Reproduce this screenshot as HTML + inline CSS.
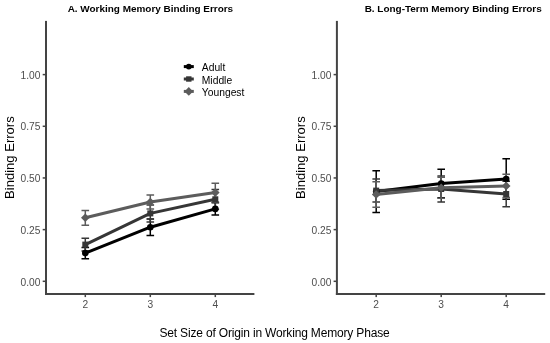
<!DOCTYPE html>
<html><head><meta charset="utf-8"><title>Binding Errors</title>
<style>html,body{margin:0;padding:0;background:#fff;} svg{display:block;filter:blur(0.3px);}</style>
</head><body>
<svg width="550" height="343" viewBox="0 0 550 343">
<style>
text { font-family: "Liberation Sans", Arial, sans-serif; }
.tk { font-size: 10.2px; fill: #4d4d4d; }
.yt { font-size: 13.05px; fill: #000; }
.xt { font-size: 12px; letter-spacing: -0.17px; fill: #000; }
.ti { font-size: 9.95px; font-weight: bold; fill: #000; }
.lg { font-size: 10.3px; fill: #000; }
</style>
<rect width="550" height="343" fill="#fff"/>
<text x="150.4" y="12.4" class="ti" text-anchor="middle">A. Working Memory Binding Errors</text>
<text x="453.2" y="12.4" class="ti" text-anchor="middle">B. Long-Term Memory Binding Errors</text>
<rect x="45.00" y="20.9" width="2" height="274.1" fill="#444444"/>
<rect x="45.00" y="293" width="209.40" height="2" fill="#444444"/>
<rect x="42.70" y="280.55" width="2.6" height="1.5" fill="#444"/>
<text x="40.4" y="285.50" class="tk" text-anchor="end">0.00</text>
<rect x="42.70" y="228.88" width="2.6" height="1.5" fill="#444"/>
<text x="40.4" y="233.82" class="tk" text-anchor="end">0.25</text>
<rect x="42.70" y="177.20" width="2.6" height="1.5" fill="#444"/>
<text x="40.4" y="182.15" class="tk" text-anchor="end">0.50</text>
<rect x="42.70" y="125.53" width="2.6" height="1.5" fill="#444"/>
<text x="40.4" y="130.48" class="tk" text-anchor="end">0.75</text>
<rect x="42.70" y="73.85" width="2.6" height="1.5" fill="#444"/>
<text x="40.4" y="78.80" class="tk" text-anchor="end">1.00</text>
<rect x="84.55" y="294.5" width="1.5" height="2.6" fill="#444"/>
<text x="85.3" y="307.6" class="tk" text-anchor="middle">2</text>
<rect x="149.55" y="294.5" width="1.5" height="2.6" fill="#444"/>
<text x="150.3" y="307.6" class="tk" text-anchor="middle">3</text>
<rect x="214.55" y="294.5" width="1.5" height="2.6" fill="#444"/>
<text x="215.3" y="307.6" class="tk" text-anchor="middle">4</text>
<text transform="translate(14.0,157.6) rotate(-90)" class="yt" text-anchor="middle">Binding Errors</text>
<rect x="335.90" y="20.9" width="2" height="274.1" fill="#444444"/>
<rect x="335.90" y="293" width="209.30" height="2" fill="#444444"/>
<rect x="333.60" y="280.55" width="2.6" height="1.5" fill="#444"/>
<text x="331.4" y="285.50" class="tk" text-anchor="end">0.00</text>
<rect x="333.60" y="228.88" width="2.6" height="1.5" fill="#444"/>
<text x="331.4" y="233.82" class="tk" text-anchor="end">0.25</text>
<rect x="333.60" y="177.20" width="2.6" height="1.5" fill="#444"/>
<text x="331.4" y="182.15" class="tk" text-anchor="end">0.50</text>
<rect x="333.60" y="125.53" width="2.6" height="1.5" fill="#444"/>
<text x="331.4" y="130.48" class="tk" text-anchor="end">0.75</text>
<rect x="333.60" y="73.85" width="2.6" height="1.5" fill="#444"/>
<text x="331.4" y="78.80" class="tk" text-anchor="end">1.00</text>
<rect x="375.45" y="294.5" width="1.5" height="2.6" fill="#444"/>
<text x="376.2" y="307.6" class="tk" text-anchor="middle">2</text>
<rect x="440.45" y="294.5" width="1.5" height="2.6" fill="#444"/>
<text x="441.2" y="307.6" class="tk" text-anchor="middle">3</text>
<rect x="505.45" y="294.5" width="1.5" height="2.6" fill="#444"/>
<text x="506.2" y="307.6" class="tk" text-anchor="middle">4</text>
<text transform="translate(304.6,157.6) rotate(-90)" class="yt" text-anchor="middle">Binding Errors</text>
<path d="M85.3,247.40V258.80M81.50,247.40H89.10M81.50,258.80H89.10" stroke="#000000" stroke-width="1.5" fill="none"/>
<path d="M150.3,218.90V235.50M146.50,218.90H154.10M146.50,235.50H154.10" stroke="#000000" stroke-width="1.5" fill="none"/>
<path d="M215.3,202.70V215.10M211.50,202.70H219.10M211.50,215.10H219.10" stroke="#000000" stroke-width="1.5" fill="none"/>
<path d="M85.3,238.20V251.00M81.50,238.20H89.10M81.50,251.00H89.10" stroke="#363636" stroke-width="1.5" fill="none"/>
<path d="M150.3,204.90V221.90M146.50,204.90H154.10M146.50,221.90H154.10" stroke="#363636" stroke-width="1.5" fill="none"/>
<path d="M215.3,189.40V209.20M211.50,189.40H219.10M211.50,209.20H219.10" stroke="#363636" stroke-width="1.5" fill="none"/>
<path d="M85.3,210.40V225.20M81.50,210.40H89.10M81.50,225.20H89.10" stroke="#5c5c5c" stroke-width="1.5" fill="none"/>
<path d="M150.3,195.00V209.00M146.50,195.00H154.10M146.50,209.00H154.10" stroke="#5c5c5c" stroke-width="1.5" fill="none"/>
<path d="M215.3,183.20V202.00M211.50,183.20H219.10M211.50,202.00H219.10" stroke="#5c5c5c" stroke-width="1.5" fill="none"/>
<polyline points="85.3,253.1 150.3,227.2 215.3,208.9" stroke="#000000" stroke-width="3.0" fill="none" stroke-linejoin="round"/>
<polyline points="85.3,244.6 150.3,213.4 215.3,199.3" stroke="#363636" stroke-width="3.0" fill="none" stroke-linejoin="round"/>
<polyline points="85.3,217.8 150.3,202.0 215.3,192.6" stroke="#5c5c5c" stroke-width="3.0" fill="none" stroke-linejoin="round"/>
<circle cx="85.3" cy="253.1" r="3.3" fill="#000000"/>
<circle cx="150.3" cy="227.2" r="3.3" fill="#000000"/>
<circle cx="215.3" cy="208.9" r="3.3" fill="#000000"/>
<rect x="82.30" y="241.60" width="6.0" height="6.0" fill="#363636"/>
<rect x="147.30" y="210.40" width="6.0" height="6.0" fill="#363636"/>
<rect x="212.30" y="196.30" width="6.0" height="6.0" fill="#363636"/>
<polygon points="85.3,213.50 89.60,217.8 85.3,222.10 81.00,217.8" fill="#5c5c5c"/>
<polygon points="150.3,197.70 154.60,202.0 150.3,206.30 146.00,202.0" fill="#5c5c5c"/>
<polygon points="215.3,188.30 219.60,192.6 215.3,196.90 211.00,192.6" fill="#5c5c5c"/>
<path d="M376.2,170.80V212.40M372.40,170.80H380.00M372.40,212.40H380.00" stroke="#000000" stroke-width="1.5" fill="none"/>
<path d="M441.2,169.20V197.80M437.40,169.20H445.00M437.40,197.80H445.00" stroke="#000000" stroke-width="1.5" fill="none"/>
<path d="M506.2,158.70V199.30M502.40,158.70H510.00M502.40,199.30H510.00" stroke="#000000" stroke-width="1.5" fill="none"/>
<path d="M376.2,179.10V202.10M372.40,179.10H380.00M372.40,202.10H380.00" stroke="#363636" stroke-width="1.5" fill="none"/>
<path d="M441.2,175.90V202.10M437.40,175.90H445.00M437.40,202.10H445.00" stroke="#363636" stroke-width="1.5" fill="none"/>
<path d="M506.2,181.30V206.70M502.40,181.30H510.00M502.40,206.70H510.00" stroke="#363636" stroke-width="1.5" fill="none"/>
<path d="M376.2,181.80V207.20M372.40,181.80H380.00M372.40,207.20H380.00" stroke="#5c5c5c" stroke-width="1.5" fill="none"/>
<path d="M441.2,177.20V198.20M437.40,177.20H445.00M437.40,198.20H445.00" stroke="#5c5c5c" stroke-width="1.5" fill="none"/>
<path d="M506.2,174.30V197.50M502.40,174.30H510.00M502.40,197.50H510.00" stroke="#5c5c5c" stroke-width="1.5" fill="none"/>
<polyline points="376.2,191.6 441.2,183.5 506.2,179.0" stroke="#000000" stroke-width="3.0" fill="none" stroke-linejoin="round"/>
<polyline points="376.2,190.6 441.2,189.0 506.2,194.0" stroke="#363636" stroke-width="3.0" fill="none" stroke-linejoin="round"/>
<polyline points="376.2,194.5 441.2,187.7 506.2,185.9" stroke="#5c5c5c" stroke-width="3.0" fill="none" stroke-linejoin="round"/>
<circle cx="376.2" cy="191.6" r="3.3" fill="#000000"/>
<circle cx="441.2" cy="183.5" r="3.3" fill="#000000"/>
<circle cx="506.2" cy="179.0" r="3.3" fill="#000000"/>
<rect x="373.20" y="187.60" width="6.0" height="6.0" fill="#363636"/>
<rect x="438.20" y="186.00" width="6.0" height="6.0" fill="#363636"/>
<rect x="503.20" y="191.00" width="6.0" height="6.0" fill="#363636"/>
<polygon points="376.2,190.20 380.50,194.5 376.2,198.80 371.90,194.5" fill="#5c5c5c"/>
<polygon points="441.2,183.40 445.50,187.7 441.2,192.00 436.90,187.7" fill="#5c5c5c"/>
<polygon points="506.2,181.60 510.50,185.9 506.2,190.20 501.90,185.9" fill="#5c5c5c"/>
<line x1="183.8" y1="66.6" x2="193.8" y2="66.6" stroke="#000000" stroke-width="3.0"/>
<circle cx="188.8" cy="66.6" r="2.9" fill="#000000"/>
<text x="201.8" y="71.10" class="lg">Adult</text>
<line x1="183.8" y1="79.0" x2="193.8" y2="79.0" stroke="#363636" stroke-width="3.0"/>
<rect x="186.10" y="76.30" width="5.4" height="5.4" fill="#363636"/>
<text x="201.8" y="83.50" class="lg">Middle</text>
<line x1="183.8" y1="91.4" x2="193.8" y2="91.4" stroke="#5c5c5c" stroke-width="3.0"/>
<polygon points="188.8,87.10 193.10,91.4 188.8,95.70 184.50,91.4" fill="#5c5c5c"/>
<text x="201.8" y="95.90" class="lg">Youngest</text>
<text x="274.5" y="336.7" class="xt" text-anchor="middle">Set Size of Origin in Working Memory Phase</text>
</svg>
</body></html>
